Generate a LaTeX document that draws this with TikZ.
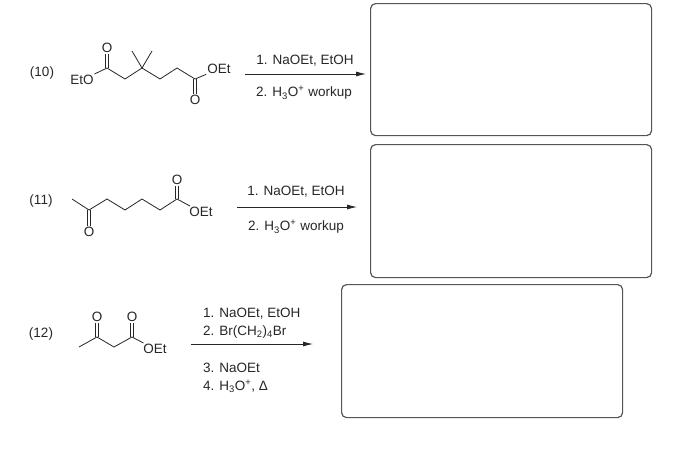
\documentclass[tikz,border=0pt]{standalone}
\usepackage{fontspec}
\setmainfont{Liberation Sans}
\usetikzlibrary{arrows.meta}
\definecolor{ink}{HTML}{262626}
\definecolor{boxline}{HTML}{555555}
\tikzset{
 x=1pt,y=-1pt,
 answerbox/.style={draw=boxline,line width=1.2pt,rounded corners=5pt,fill=white},
 bond/.style={draw=ink,line width=0.8pt},
 atom/.style={inner sep=1pt,text=ink,font=\fontsize{13.5}{13.5}\selectfont},
 tag/.style={inner sep=0pt,text=ink,font=\fontsize{13.5}{13.5}\selectfont},
 reagent/.style={inner sep=0pt,text=ink,font=\fontsize{13.5}{13.5}\selectfont},
 rxn/.style={draw=ink,line width=0.8pt,-{Latex[length=10pt,width=5pt]}},
}
\newcommand{\hthree}{H\textsubscript{3}O\textsuperscript{+}}
\newcommand{\dblup}[2]{%
  \draw[bond] ([xshift=-1.2pt]#1) -- ([xshift=-1.2pt]#2);
  \draw[bond] ([xshift=1.2pt]#1) -- ([xshift=1.2pt]#2);}
\begin{document}
\begin{tikzpicture}
\useasboundingbox (0,0) rectangle (700,459);
% boxes
\node[answerbox,minimum width=281pt,minimum height=132pt,anchor=north west] (box10) at (370,3) {};
\node[answerbox,minimum width=281pt,minimum height=133pt,anchor=north west] (box11) at (370,144) {};
\node[answerbox,minimum width=281pt,minimum height=133pt,anchor=north west] (box12) at (341,284) {};
% labels
\node[tag] (t10) at (42,73) {(10)};
\node[tag] (t11) at (41,201) {(11)};
\node[tag] (t12) at (41,334) {(12)};
% molecule 10
\node[atom] (a1) at (82,80) {EtO};
\coordinate (a2) at (107,68);
\node[atom] (a3) at (107,48) {O};
\coordinate (a4) at (125,79);
\coordinate (a5) at (142,68);
\coordinate (a6) at (132,51);
\coordinate (a7) at (152,51);
\coordinate (a8) at (160,79);
\coordinate (a9) at (177,68);
\coordinate (a10) at (195,79);
\node[atom] (a11) at (195,100) {O};
\node[atom] (a12) at (219,69) {OEt};
\draw[bond,line join=round] (a1) -- (a2) -- (a4) -- (a5) -- (a8) -- (a9) -- (a10) -- (a12);
\draw[bond] (a5) -- (a6) (a5) -- (a7);
\dblup{a2}{a3.south}
\dblup{a10}{a11.north}
% molecule 11
\coordinate (b1) at (72,199);
\coordinate (b2) at (89,210);
\node[atom] (b3) at (89,232) {O};
\coordinate (b4) at (107,199);
\coordinate (b5) at (125,210);
\coordinate (b6) at (142,199);
\coordinate (b7) at (160,210);
\coordinate (b8) at (177,199);
\node[atom] (b9) at (177,180) {O};
\node[atom] (b10) at (201,212) {OEt};
\draw[bond,line join=round] (b1) -- (b2) -- (b4) -- (b5) -- (b6) -- (b7) -- (b8) -- (b10);
\dblup{b2}{b3.north}
\dblup{b8}{b9.south}
% molecule 12
\coordinate (c1) at (79,347);
\coordinate (c2) at (97,337);
\node[atom] (c3) at (97,317) {O};
\coordinate (c4) at (114,347);
\coordinate (c5) at (132,337);
\node[atom] (c6) at (132,317) {O};
\node[atom] (c7) at (155,349) {OEt};
\draw[bond,line join=round] (c1) -- (c2) -- (c4) -- (c5) -- (c7);
\dblup{c2}{c3.south}
\dblup{c5}{c6.south}
% arrows
\coordinate (r10s) at (245,74); \coordinate (r10e) at (366,74);
\coordinate (r11s) at (237,207); \coordinate (r11e) at (357,207);
\coordinate (r12s) at (191,344); \coordinate (r12e) at (313,344);
\draw[rxn] (r10s) -- (r10e);
\draw[rxn] (r11s) -- (r11e);
\draw[rxn] (r12s) -- (r12e);
% reagents
\node[reagent] (n1) at (305,61) {1. NaOEt, EtOH};
\node[reagent] (n2) at (304,93) {2. \hthree{} workup};
\node[reagent] (n3) at (296,192) {1. NaOEt, EtOH};
\node[reagent] (n4) at (296,227) {2. \hthree{} workup};
\node[reagent,anchor=west] (n5) at (203,314) {1. NaOEt, EtOH};
\node[reagent,anchor=west] (n6) at (203,332) {2. Br(CH\textsubscript{2})\textsubscript{4}Br};
\node[reagent,anchor=west] (n7) at (203,368) {3. NaOEt};
\node[reagent,anchor=west] (n8) at (203,386) {4. \hthree{}, Δ};
\end{tikzpicture}
\end{document}
